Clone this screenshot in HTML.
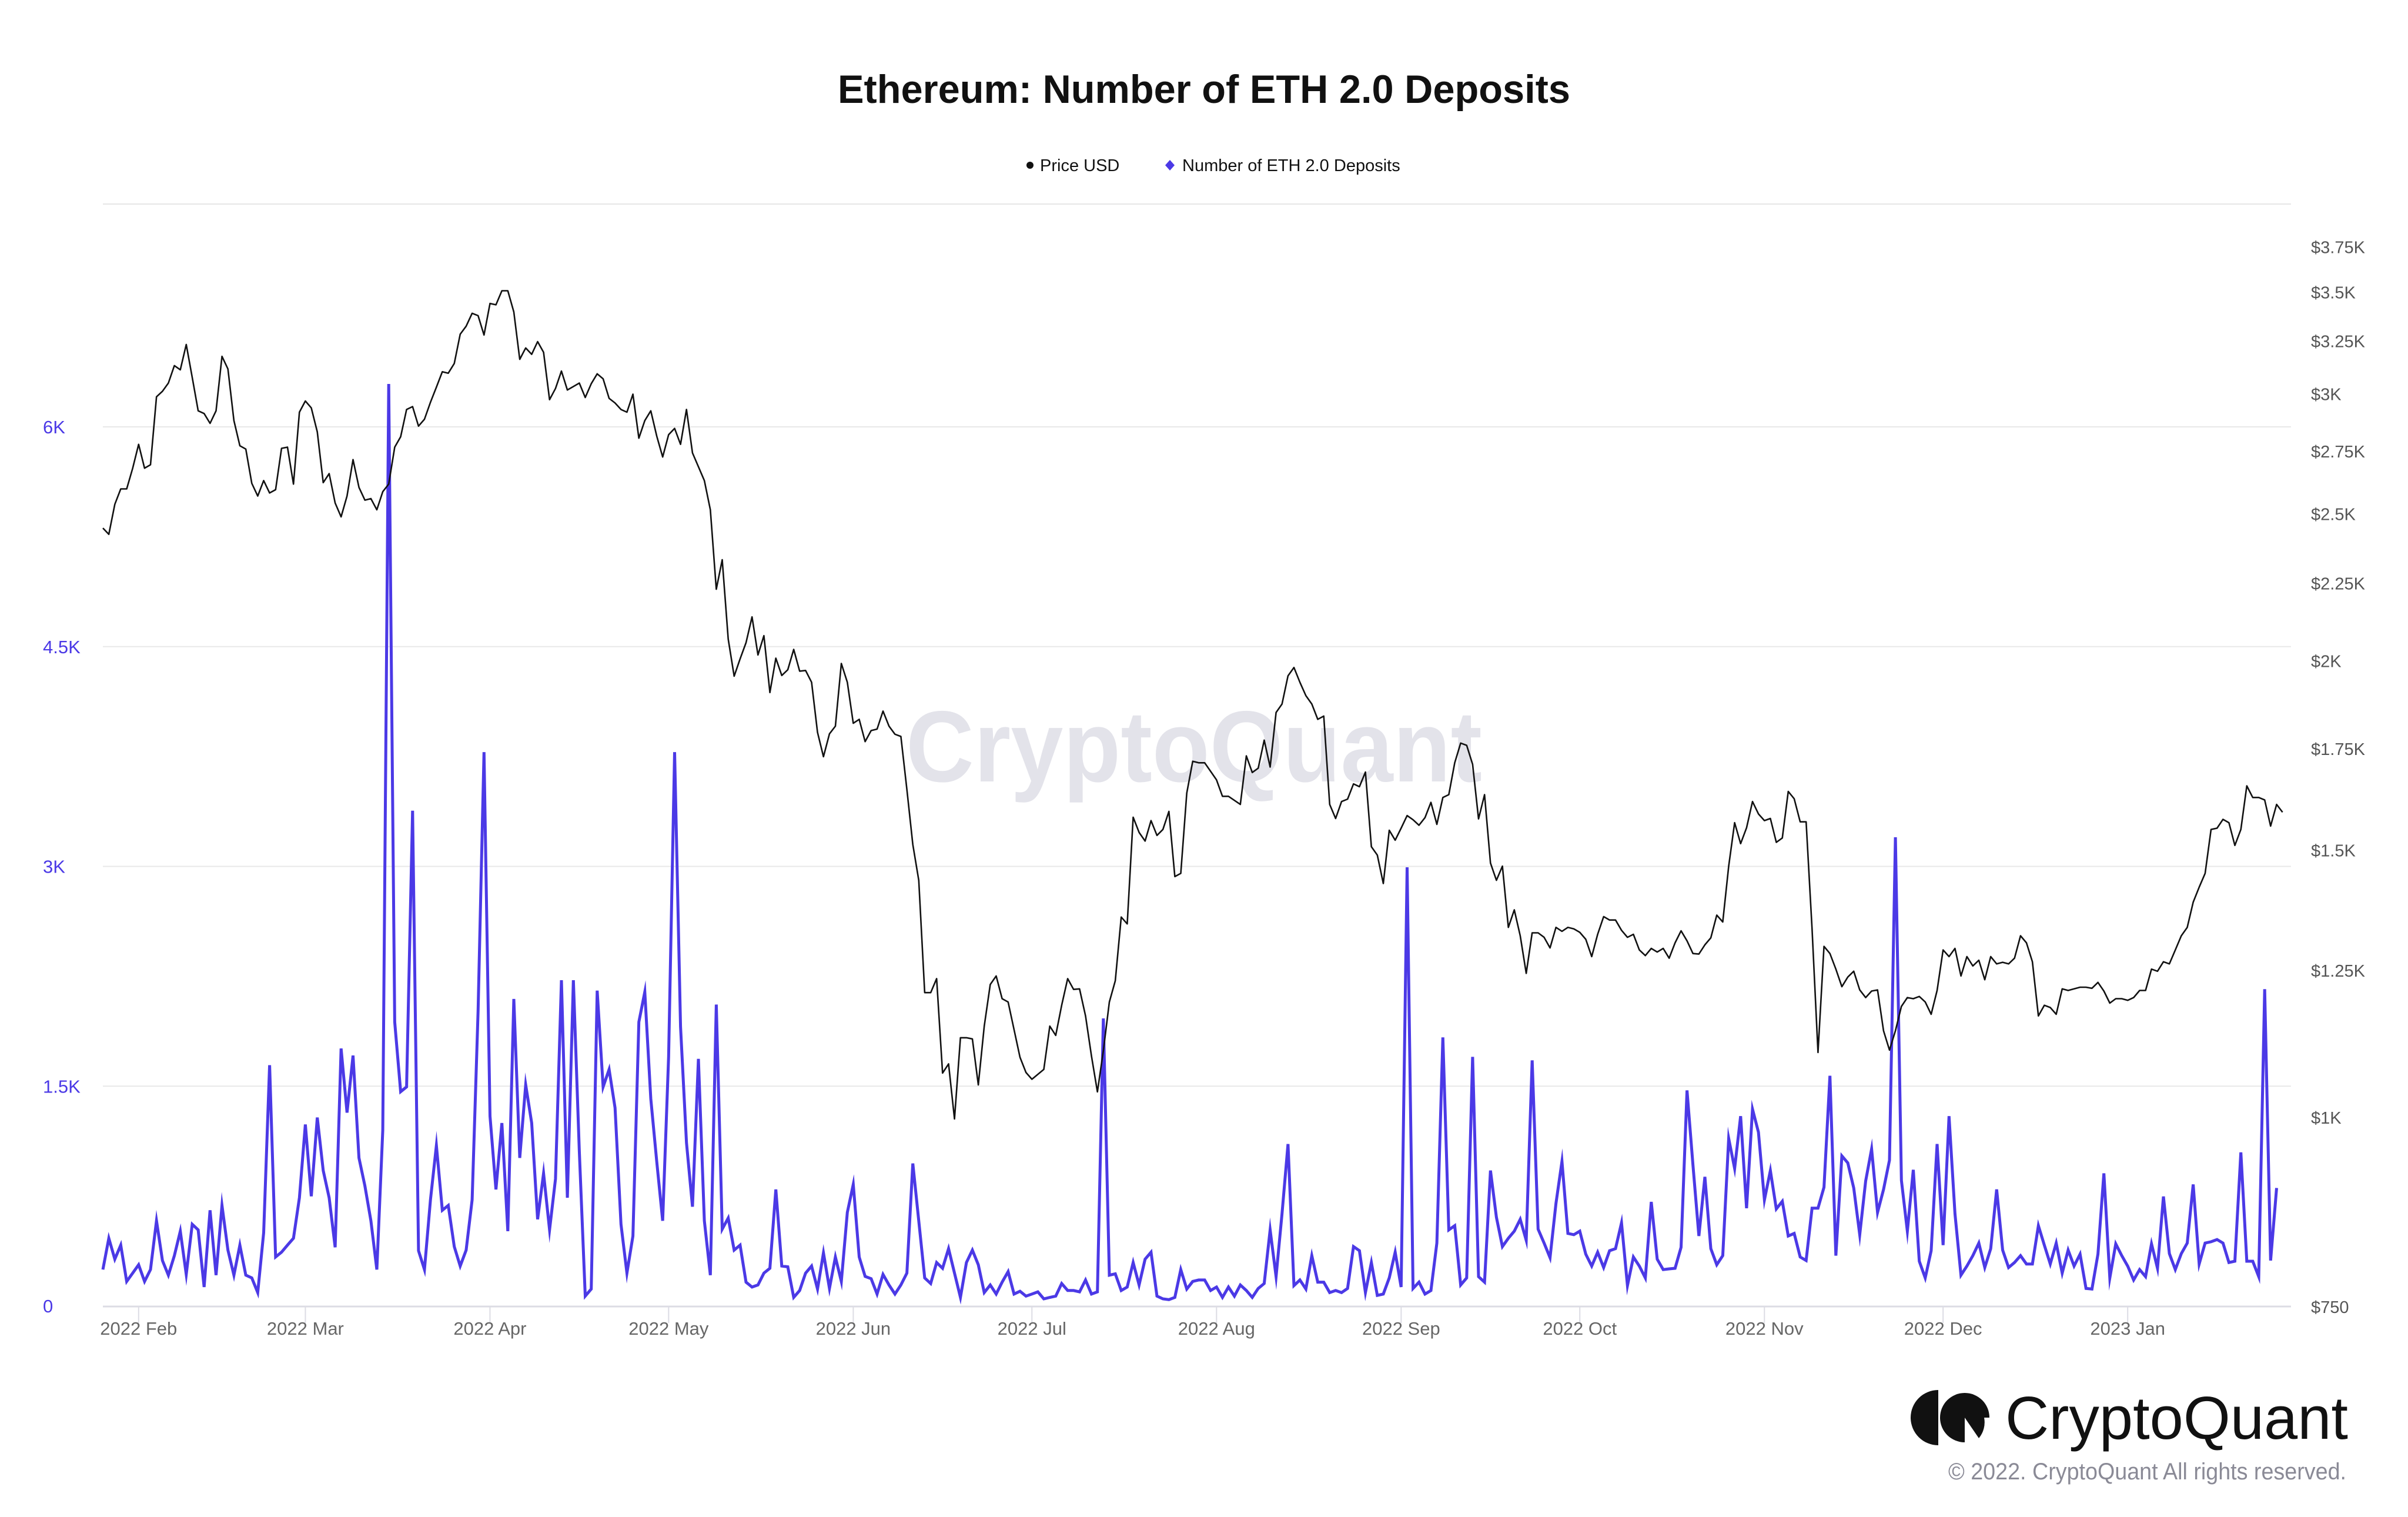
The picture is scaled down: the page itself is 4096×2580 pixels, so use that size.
<!DOCTYPE html>
<html><head><meta charset="utf-8"><title>Ethereum: Number of ETH 2.0 Deposits</title>
<style>
html,body{margin:0;padding:0;background:#fff;}
svg{display:block;font-family:"Liberation Sans",Arial,sans-serif;}
</style></head>
<body>
<svg id="chart" width="4096" height="2580" viewBox="0 0 4096 2580" xmlns="http://www.w3.org/2000/svg">
<rect x="0" y="0" width="4096" height="2580" fill="#fff"/>
<text x="2048" y="175" text-anchor="middle" font-size="68" font-weight="bold" fill="#111" textLength="1246" lengthAdjust="spacingAndGlyphs">Ethereum: Number of ETH 2.0 Deposits</text>
<g>
<g>
<circle cx="1752" cy="281" r="6" fill="#111"/>
<text x="1769" y="291" font-size="29" fill="#111">Price USD</text>
</g>
<g>
<path d="M1990 272 L1998 281 L1990 290 L1982 281 Z" fill="#4b39e6"/>
<text x="2011" y="291" font-size="29" fill="#111">Number of ETH 2.0 Deposits</text>
</g>
</g>
<line x1="175" y1="347" x2="3897" y2="347" stroke="#e6e6e6" stroke-width="2"/>
<g id="grid"></g>
<text x="2031" y="1329" text-anchor="middle" font-size="172" font-weight="bold" fill="#e3e3ea" textLength="980" lengthAdjust="spacingAndGlyphs">CryptoQuant</text>
<g id="xaxis"></g>
<g id="yleft"></g>
<g id="yright"></g>
<g id="series"></g>
<g>
<path d="M3297 2364 A47 47 0 0 0 3297 2458 Z" fill="#111"/>
<circle cx="3342" cy="2411" r="42" fill="#111"/>
<path d="M3342 2411 L3390 2411 L3390 2460 L3342 2460 Z" fill="#fff"/>
<path d="M3342 2411 L3375 2411 A42 42 0 0 1 3366 2446 Z" fill="#111"/>
<text x="3411" y="2447" font-size="103" fill="#111" textLength="583" lengthAdjust="spacingAndGlyphs">CryptoQuant</text>
</g>
<text x="3314" y="2516" font-size="40" fill="#8a8a96" textLength="677" lengthAdjust="spacingAndGlyphs">© 2022. CryptoQuant All rights reserved.</text>
</svg>
<script>
const startDate = [2022, 0, 26];
const priceUSD = [
2448,2425,2538,2598,2598,2681,2780,2681,2695,2988,
3013,3051,3133,3113,3235,3077,2925,2913,2870,2925,
3177,3117,2882,2774,2760,2620,2570,2631,2582,2595,
2763,2768,2617,2919,2969,2938,2833,2623,2659,2543,
2490,2570,2716,2604,2554,2560,2517,2587,2617,2768,
2812,2931,2944,2858,2888,2963,3032,3104,3097,3143,
3286,3326,3392,
3380,3282,3443,3436,3510,3510,3399,3163,3218,3187,
3249,3197,2975,3026,3107,3019,3035,3051,2985,3048,
3094,3071,2981,2960,2931,2919,3000,2806,2882,2925,
2815,2727,2821,2848,2780,2931,2744,2687,2631,2517,
2231,2333,2068,1955,2007,2057,2139,2019,2079,1907,
2009,1957,1974,2036,1970,1972,1937,1795,1730,1791,
1812,
1993,1937,1820,1831,1770,1800,1804,1854,1812,1790,
1784,1646,1514,1434,1209,1209,1235,1070,1085,998,
1129,1129,1127,1051,1149,1224,1240,1198,1192,1143,
1096,1071,1060,1068,1076,1149,1133,1186,1235,1215,
1216,1167,1098,1040,1107,1192,1231,1356,1342,1578,
1542,1522,1570,1535,1549,1592,1442,1449,1637,1718,
1714,
1714,1692,1670,1629,1629,1619,1609,1732,1689,1700,
1774,1703,1850,1874,1956,1981,1937,1898,1874,1831,
1840,1609,1575,1616,1622,1660,1653,1690,1509,1490,
1427,1547,1524,1552,1582,1572,1559,1577,1614,1561,
1626,1633,1714,1766,1760,1710,1574,1633,1472,1434,
1465,1335,1371,1318,1245,1324,1324,1315,1294,1335,
1327,1335,
1332,1325,1311,1277,1321,1357,1350,1350,1329,1315,
1321,1290,1279,1293,1286,1293,1274,1304,1328,1308,
1283,1282,1300,1314,1360,1346,1465,1565,1516,1553,
1616,1586,1570,1575,1519,1529,1641,1623,1567,1567,
1332,1104,1297,1283,1253,1220,1238,1249,1214,1200,
1212,1214,1141,1108,1141,1184,1200,1198,1202,1192,
1170,
1213,1290,1277,1293,1240,1277,1259,1270,1233,1277,
1263,1266,1263,1274,1318,1304,1267,1167,1186,1182,
1170,1216,1213,1216,1219,1219,1217,1228,1212,1190,
1198,1198,1195,1200,1213,1213,1253,1249,1267,1263,
1290,1318,1335,1387,1419,1449,1549,1552,1573,1565,
1512,1549,1655,1626,1626,1620,1557,1609,1590
];
const deposits = [
248,462,319,415,167,224,281,167,248,581,
310,210,343,510,215,557,519,129,653,210,
686,381,210,415,210,191,91,500,1643,334,
367,415,462,738,1238,748,1286,924,738,400,
1757,1319,1709,1010,819,581,248,1200,6293,1938,
1462,1495,3380,377,248,724,1095,653,686,405,
272,381,724,
2009,3780,1295,795,1248,510,2095,1010,1509,1248,
591,905,519,867,2223,738,2223,1057,67,115,
2152,1495,1614,1352,557,224,477,1938,2143,1414,
986,581,1700,3780,1905,1114,677,1686,581,210,
2057,524,600,381,415,162,129,143,224,257,
795,272,267,58,105,224,272,115,362,119,
334,
167,638,829,334,201,186,81,215,143,81,
143,224,972,581,191,153,296,257,391,224,
58,296,381,281,91,143,81,162,234,81,
100,67,81,96,48,58,67,153,105,105,
96,177,81,96,1962,210,219,105,129,296,
143,319,367,67,48,43,58,248,115,167,
177,
177,105,129,58,129,67,143,105,58,119,
153,519,200,629,1105,139,177,115,343,162,
162,91,105,91,119,405,377,91,296,72,
81,191,367,129,2994,119,162,81,105,429,
1833,519,548,143,191,1700,200,162,924,605,
405,462,510,591,448,1676,524,429,329,700,
986,495,
486,510,353,272,367,262,377,391,567,139,
334,272,191,710,319,248,253,257,400,1471,
962,477,881,391,281,343,1143,938,1295,667,
1343,1186,724,924,662,714,477,495,334,310,
667,667,810,1571,343,1024,976,805,486,853,
1071,638,795,995,3199,857,510,929,305,191,
377,
1105,415,1295,629,210,272,343,429,262,391,
795,381,262,296,343,286,286,548,415,286,
429,224,381,272,353,119,115,353,905,191,
424,343,272,177,248,200,424,257,747,357,
248,357,429,829,286,429,438,453,429,296,
305,1048,305,305,200,2162,310,805
];
const leftTicks = [0, 1500, 3000, 4500, 6000];
const leftTickLabels = ["0", "1.5K", "3K", "4.5K", "6K"];
const rightTicks = [750, 1000, 1250, 1500, 1750, 2000, 2250, 2500, 2750, 3000, 3250, 3500, 3750];
const rightTickLabels = ["$750", "$1K", "$1.25K", "$1.5K", "$1.75K", "$2K", "$2.25K", "$2.5K", "$2.75K", "$3K", "$3.25K", "$3.5K", "$3.75K"];
const monthTicks = [[2022,1],[2022,2],[2022,3],[2022,4],[2022,5],[2022,6],[2022,7],[2022,8],[2022,9],[2022,10],[2022,11],[2023,0]];
const monthTickLabels = ["2022 Feb","2022 Mar","2022 Apr","2022 May","2022 Jun","2022 Jul","2022 Aug","2022 Sep","2022 Oct","2022 Nov","2022 Dec","2023 Jan"];

const NS = "http://www.w3.org/2000/svg";
const X0 = 175, DX = 10.13;
const t0 = Date.UTC(startDate[0], startDate[1], startDate[2]);
function xDay(d){ return X0 + d * DX; }
function xDate(y, m, day){ return xDay((Date.UTC(y, m, day) - t0) / 86400000); }
function yLeft(v){ return 2221 - v / 6000 * 1495; }
function yRight(p){ return 2223 - 1120 * Math.log(p / 750); }
function mk(tag, attrs, parent){
  const el = document.createElementNS(NS, tag);
  for (const k in attrs) el.setAttribute(k, attrs[k]);
  parent.appendChild(el);
  return el;
}

const grid = document.getElementById('grid');
leftTicks.forEach((v, i) => {
  if (v === 0) return;
  const ln = mk('line', {x1: 175, x2: 3897, y1: yLeft(v), y2: yLeft(v), stroke: '#e8e8e8', 'stroke-width': 2}, grid);
  
  
});

const yl = document.getElementById('yleft');
leftTicks.forEach((v, i) => {
  const t = mk('text', {x: 73, y: yLeft(v) + 11, 'font-size': 31, fill: '#4b39e6'}, yl);
  t.textContent = leftTickLabels[i];
  
  
});

const yr = document.getElementById('yright');
rightTicks.forEach((p, i) => {
  const t = mk('text', {x: 3931, y: yRight(p) + 10, 'font-size': 29, fill: '#555'}, yr);
  t.textContent = rightTickLabels[i];
  
  
});

const xa = document.getElementById('xaxis');
const base = mk('line', {x1: 175, x2: 3897, y1: 2222, y2: 2222, stroke: '#dcdce4', 'stroke-width': 3}, xa);


monthTicks.forEach((m, i) => {
  const x = xDate(m[0], m[1], 1);
  const tk = mk('line', {x1: x, x2: x, y1: 2222, y2: 2250, stroke: '#dcdce4', 'stroke-width': 2}, xa);
  
  
  const t = mk('text', {x: x, y: 2270, 'font-size': 31, fill: '#666', 'text-anchor': 'middle'}, xa);
  t.textContent = monthTickLabels[i];
  
  
});

const series = document.getElementById('series');
const dPts = deposits.map((v, i) => xDay(i).toFixed(1) + ',' + yLeft(v).toFixed(1)).join(' ');
const dl = mk('polyline', {points: dPts, fill: 'none', stroke: '#4b39e6', 'stroke-width': 5, 'stroke-linejoin': 'miter', 'stroke-miterlimit': 10}, series);


const pPts = priceUSD.map((v, i) => xDay(i).toFixed(1) + ',' + yRight(v).toFixed(1)).join(' ');
const pl = mk('polyline', {points: pPts, fill: 'none', stroke: '#111', 'stroke-width': 2.6, 'stroke-linejoin': 'round'}, series);


</script>
</body></html>
